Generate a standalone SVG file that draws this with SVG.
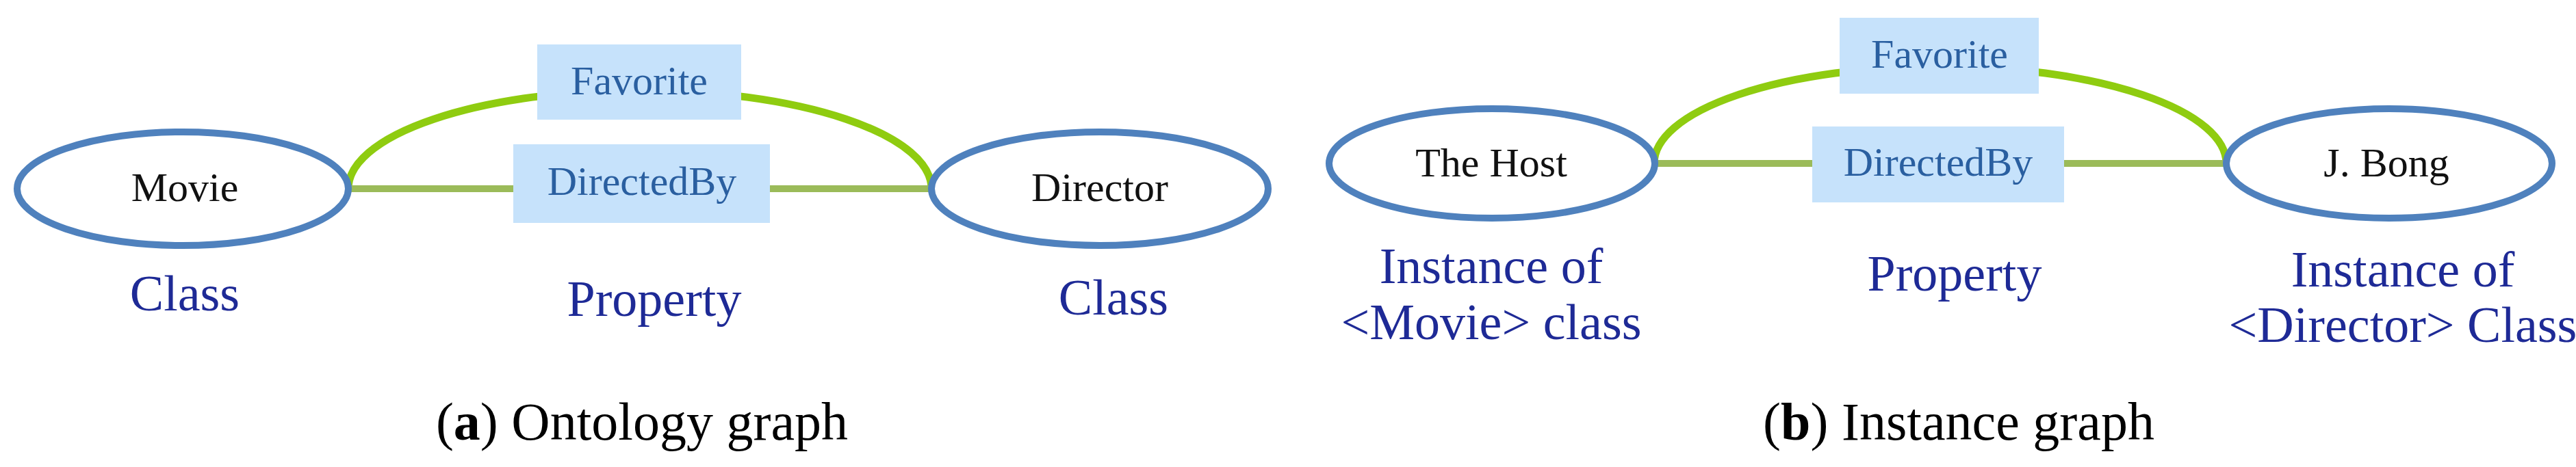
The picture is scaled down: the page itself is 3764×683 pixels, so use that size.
<svg xmlns="http://www.w3.org/2000/svg" width="3764" height="683" viewBox="0 0 3764 683">
<style>
.node{fill:#fff;stroke:#4f81bd;stroke-width:10}
.box{fill:#c6e2fb}
.arc{fill:none;stroke:#8fcc10;stroke-width:11}
.line{stroke:#9bbb59;stroke-width:10}
text{font-family:"Liberation Serif",serif;text-anchor:middle}
.nt{font-size:60px;fill:#111}
.pt{font-size:60px;fill:#2a5fa0}
.lb{font-size:74px;fill:#1e2a96}
.cap{font-size:78px;fill:#000}
</style>
<rect width="3764" height="683" fill="#fff"/>
<g id="connectors">
<path class="arc" d="M509,276 A426,144 0 0 1 1361,276"/>
<line class="line" x1="509" y1="276" x2="1361" y2="276"/>
<path class="arc" d="M2417,239 A418,142 0 0 1 3253,239"/>
<line class="line" x1="2417" y1="239" x2="3253" y2="239"/>
</g>
<g id="movie"><ellipse class="node" cx="267" cy="276" rx="242" ry="83"/><text class="nt" x="270" y="294">Movie</text></g>
<g id="director"><ellipse class="node" cx="1607" cy="276" rx="246" ry="83"/><text class="nt" x="1607" y="294">Director</text></g>
<g id="favorite-a"><rect class="box" x="785" y="65" width="298" height="110"/><text class="pt" x="934" y="138">Favorite</text></g>
<g id="directedby-a"><rect class="box" x="750" y="211" width="375" height="115"/><text class="pt" x="938" y="285">DirectedBy</text></g>
<g id="labels-a">
<text class="lb" x="270" y="454">Class</text>
<text class="lb" x="956" y="462">Property</text>
<text class="lb" x="1627" y="460">Class</text>
<text class="cap" x="938" y="643">(<tspan font-weight="bold">a</tspan>) Ontology graph</text>
</g>
<g id="thehost"><ellipse class="node" cx="2180" cy="239" rx="238" ry="80"/><text class="nt" x="2179" y="258">The Host</text></g>
<g id="jbong"><ellipse class="node" cx="3491" cy="239" rx="238" ry="80"/><text class="nt" x="3487" y="258">J. Bong</text></g>
<g id="favorite-b"><rect class="box" x="2688" y="26" width="291" height="111"/><text class="pt" x="2834" y="99">Favorite</text></g>
<g id="directedby-b"><rect class="box" x="2648" y="185" width="368" height="111"/><text class="pt" x="2832" y="257">DirectedBy</text></g>
<g id="labels-b">
<text class="lb" x="2179" y="414">Instance of</text>
<text class="lb" x="2179" y="496">&lt;Movie&gt; class</text>
<text class="lb" x="2856" y="425">Property</text>
<text class="lb" x="3511" y="419">Instance of</text>
<text class="lb" x="3511" y="500">&lt;Director&gt; Class</text>
<text class="cap" x="2862" y="643">(<tspan font-weight="bold">b</tspan>) Instance graph</text>
</g>
</svg>
